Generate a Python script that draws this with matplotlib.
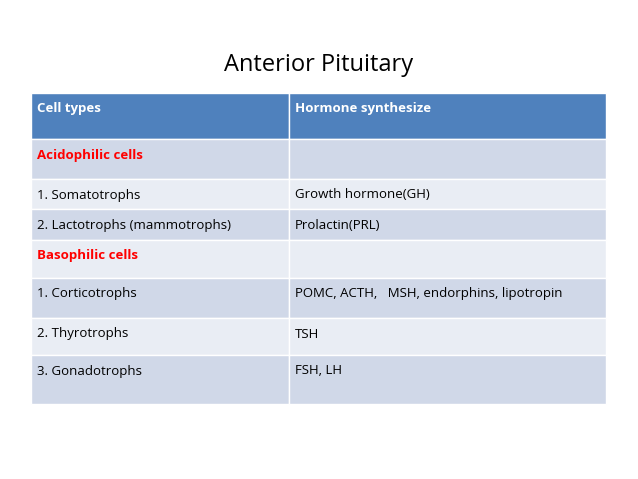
import matplotlib
matplotlib.use("Agg")
import matplotlib.pyplot as plt
from matplotlib.patches import Rectangle

title = "Anterior Pituitary"
header = ["Cell types", "Hormone synthesize"]
col1 = ["Acidophilic cells", "1. Somatotrophs", "2. Lactotrophs (mammotrophs)",
        "Basophilic cells", "1. Corticotrophs", "2. Thyrotrophs", "3. Gonadotrophs"]
col2 = ["", "Growth hormone(GH)", "Prolactin(PRL)",
        "", "POMC, ACTH,   MSH, endorphins, lipotropin", "TSH", "FSH, LH"]
is_group = [True, False, False, True, False, False, False]

# layout (pixels)
x_left, x_mid, x_right = 31, 289, 606
row_edges = [93, 139, 179, 209, 240, 278, 318, 355, 404]
fills = ["#D0D8E8", "#E9EDF4"]

fig = plt.figure(figsize=(6.38, 4.79), dpi=100)
ax = fig.add_axes([0, 0, 1, 1])
ax.set_xlim(0, 638); ax.set_ylim(479, 0); ax.axis("off")

ax.text(319, 65, title, ha="center", va="center", fontsize=17, family="Liberation Sans"
        if False else "Open Sans", color="black")

def cell(x0, x1, y0, y1, color):
    ax.add_patch(Rectangle((x0, y0), x1 - x0, y1 - y0, facecolor=color,
                           edgecolor="white", linewidth=1))

hdr = "#4F81BD"
cell(x_left, x_mid, row_edges[0], row_edges[1], hdr)
cell(x_mid, x_right, row_edges[0], row_edges[1], hdr)
ax.text(x_left + 6, row_edges[0] + 15, header[0], color="white", fontsize=9.5,
        fontweight="bold", va="center", family="Open Sans")
ax.text(x_mid + 6, row_edges[0] + 15, header[1], color="white", fontsize=9.5,
        fontweight="bold", va="center", family="Open Sans")

for i, (a, b, g) in enumerate(zip(col1, col2, is_group)):
    y0, y1 = row_edges[i + 1], row_edges[i + 2]
    c = fills[i % 2]
    cell(x_left, x_mid, y0, y1, c)
    cell(x_mid, x_right, y0, y1, c)
    ax.text(x_left + 6, y0 + 16, a, color="#FF0000" if g else "black",
            fontweight="bold" if g else "normal", fontsize=9.5, va="center",
            family="Open Sans")
    ax.text(x_mid + 6, y0 + 16, b, color="black", fontsize=9.5, va="center",
            family="Open Sans")

fig.savefig("out.png", dpi=100, facecolor="white")
